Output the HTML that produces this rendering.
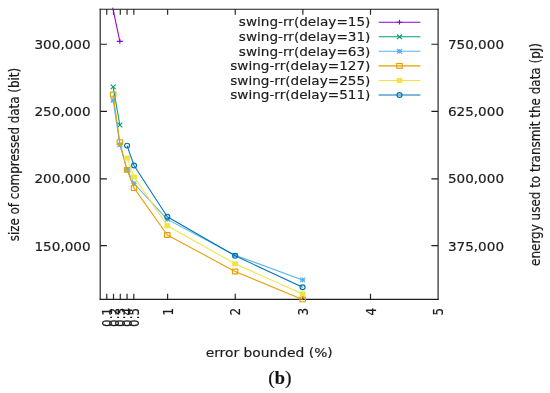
<!DOCTYPE html>
<html lang="en"><head><meta charset="utf-8"><title>chart (b)</title>
<style>
html,body{margin:0;padding:0;background:#fff}
body{width:550px;height:393px;overflow:hidden}
svg{display:block}
text{font-family:"DejaVu Sans","Liberation Sans",sans-serif;font-size:13.33px;fill:#1c1c1c;stroke:#1c1c1c;stroke-width:0.2px}
.cap{font-family:"Liberation Serif","DejaVu Serif",serif;font-size:18.4px;fill:#111}
</style></head><body>
<svg width="550" height="393" viewBox="0 0 550 393">
<rect width="550" height="393" fill="#fff"/>
<path d="M100.2 8.7V299.85M438.1 8.7V299.85M106.76 299.35v-5.6M106.76 9.2v5.6M113.52 299.35v-5.6M113.52 9.2v5.6M120.29 299.35v-5.6M120.29 9.2v5.6M127.05 299.35v-5.6M127.05 9.2v5.6M133.81 299.35v-5.6M133.81 9.2v5.6M167.62 299.35v-5.6M167.62 9.2v5.6M235.24 299.35v-5.6M235.24 9.2v5.6M302.86 299.35v-5.6M302.86 9.2v5.6M370.48 299.35v-5.6M370.48 9.2v5.6" stroke="#2a2a2a" stroke-width="1.2" fill="none"/>
<path d="M99.60 9.2H438.70M99.60 299.35H438.70M100.2 44.30h6.7M438.1 44.30h-6.7M100.2 111.40h6.7M438.1 111.40h-6.7M100.2 178.90h6.7M438.1 178.90h-6.7M100.2 245.60h6.7M438.1 245.60h-6.7" stroke="#1e1e1e" stroke-width="1.1" fill="none"/>
<g stroke-width="1.05" stroke-linejoin="round" stroke-linecap="butt">
<polyline points="112.70,7.60 119.85,41.30" fill="none" stroke="#9400d3"/>
<path d="M116.85 41.30H122.85M119.85 38.90V43.70" stroke="#9400d3" stroke-width="1.15" fill="none"/>
<polyline points="113.15,86.90 119.85,125.00" fill="none" stroke="#009e73"/>
<path d="M110.65 84.60L115.65 89.20M110.65 89.20L115.65 84.60" stroke="#009e73" stroke-width="1.15" fill="none"/>
<path d="M117.35 122.70L122.35 127.30M117.35 127.30L122.35 122.70" stroke="#009e73" stroke-width="1.15" fill="none"/>
<polyline points="113.15,100.20 119.85,144.80 127.05,169.70 134.05,183.50 167.30,219.40 235.10,255.20 302.60,279.90" fill="none" stroke="#56b4e9"/>
<path d="M110.65 97.90L115.65 102.50M110.65 102.50L115.65 97.90M110.65 100.20H115.65M113.15 97.90V102.50" stroke="#56b4e9" stroke-width="1.15" fill="none"/>
<path d="M117.35 142.50L122.35 147.10M117.35 147.10L122.35 142.50M117.35 144.80H122.35M119.85 142.50V147.10" stroke="#56b4e9" stroke-width="1.15" fill="none"/>
<path d="M124.55 167.40L129.55 172.00M124.55 172.00L129.55 167.40M124.55 169.70H129.55M127.05 167.40V172.00" stroke="#56b4e9" stroke-width="1.15" fill="none"/>
<path d="M131.55 181.20L136.55 185.80M131.55 185.80L136.55 181.20M131.55 183.50H136.55M134.05 181.20V185.80" stroke="#56b4e9" stroke-width="1.15" fill="none"/>
<path d="M164.80 217.10L169.80 221.70M164.80 221.70L169.80 217.10M164.80 219.40H169.80M167.30 217.10V221.70" stroke="#56b4e9" stroke-width="1.15" fill="none"/>
<path d="M232.60 252.90L237.60 257.50M232.60 257.50L237.60 252.90M232.60 255.20H237.60M235.10 252.90V257.50" stroke="#56b4e9" stroke-width="1.15" fill="none"/>
<path d="M300.10 277.60L305.10 282.20M300.10 282.20L305.10 277.60M300.10 279.90H305.10M302.60 277.60V282.20" stroke="#56b4e9" stroke-width="1.15" fill="none"/>
<polyline points="113.15,94.50 119.85,142.10 127.05,169.80 134.05,188.10 167.30,235.00 235.10,271.50 302.60,299.40" fill="none" stroke="#e69f00"/>
<rect x="110.45" y="92.15" width="5.4" height="4.7" stroke="#e69f00" stroke-width="1.15" fill="none"/>
<rect x="117.15" y="139.75" width="5.4" height="4.7" stroke="#e69f00" stroke-width="1.15" fill="none"/>
<rect x="124.35" y="167.45" width="5.4" height="4.7" stroke="#e69f00" stroke-width="1.15" fill="none"/>
<rect x="131.35" y="185.75" width="5.4" height="4.7" stroke="#e69f00" stroke-width="1.15" fill="none"/>
<rect x="164.60" y="232.65" width="5.4" height="4.7" stroke="#e69f00" stroke-width="1.15" fill="none"/>
<rect x="232.40" y="269.15" width="5.4" height="4.7" stroke="#e69f00" stroke-width="1.15" fill="none"/>
<rect x="299.90" y="297.05" width="5.4" height="4.7" stroke="#e69f00" stroke-width="1.15" fill="none"/>
<polyline points="127.05,158.10 134.05,176.90 167.30,225.70 235.10,263.80 302.60,293.90" fill="none" stroke="#f0e442"/>
<rect x="124.15" y="155.60" width="5.8" height="5.0" fill="#f0e442" stroke="none"/>
<rect x="131.15" y="174.40" width="5.8" height="5.0" fill="#f0e442" stroke="none"/>
<rect x="164.40" y="223.20" width="5.8" height="5.0" fill="#f0e442" stroke="none"/>
<rect x="232.20" y="261.30" width="5.8" height="5.0" fill="#f0e442" stroke="none"/>
<rect x="299.70" y="291.40" width="5.8" height="5.0" fill="#f0e442" stroke="none"/>
<polyline points="127.05,145.60 134.05,165.50 167.30,216.80 235.10,255.80 302.60,287.20" fill="none" stroke="#0072b2"/>
<ellipse cx="127.05" cy="145.60" rx="2.5" ry="2.4" stroke="#0072b2" stroke-width="1.15" fill="none"/>
<ellipse cx="134.05" cy="165.50" rx="2.5" ry="2.4" stroke="#0072b2" stroke-width="1.15" fill="none"/>
<ellipse cx="167.30" cy="216.80" rx="2.5" ry="2.4" stroke="#0072b2" stroke-width="1.15" fill="none"/>
<ellipse cx="235.10" cy="255.80" rx="2.5" ry="2.4" stroke="#0072b2" stroke-width="1.15" fill="none"/>
<ellipse cx="302.60" cy="287.20" rx="2.5" ry="2.4" stroke="#0072b2" stroke-width="1.15" fill="none"/>
</g>
<text transform="translate(90.60 48.50) scale(1 0.95)" style="font-size:13.58px" text-anchor="end">300,000</text>
<text transform="translate(447.90 48.50) scale(1 0.95)" style="font-size:13.58px" text-anchor="start">750,000</text>
<text transform="translate(90.60 116.00) scale(1 0.95)" style="font-size:13.58px" text-anchor="end">250,000</text>
<text transform="translate(447.90 116.00) scale(1 0.95)" style="font-size:13.58px" text-anchor="start">625,000</text>
<text transform="translate(90.60 183.30) scale(1 0.95)" style="font-size:13.58px" text-anchor="end">200,000</text>
<text transform="translate(447.90 183.30) scale(1 0.95)" style="font-size:13.58px" text-anchor="start">500,000</text>
<text transform="translate(90.60 250.50) scale(1 0.95)" style="font-size:13.58px" text-anchor="end">150,000</text>
<text transform="translate(447.90 250.50) scale(1 0.95)" style="font-size:13.58px" text-anchor="start">375,000</text>
<text transform="translate(111.96 308.00) rotate(-90) scale(0.8 1)" style="font-size:14.9px" text-anchor="end">0.1</text>
<text transform="translate(118.72 308.00) rotate(-90) scale(0.8 1)" style="font-size:14.9px" text-anchor="end">0.2</text>
<text transform="translate(125.49 308.00) rotate(-90) scale(0.8 1)" style="font-size:14.9px" text-anchor="end">0.3</text>
<text transform="translate(132.25 308.00) rotate(-90) scale(0.8 1)" style="font-size:14.9px" text-anchor="end">0.4</text>
<text transform="translate(139.01 308.00) rotate(-90) scale(0.8 1)" style="font-size:14.9px" text-anchor="end">0.5</text>
<text transform="translate(172.82 308.00) rotate(-90) scale(0.8 1)" style="font-size:14.9px" text-anchor="end">1</text>
<text transform="translate(240.44 308.00) rotate(-90) scale(0.8 1)" style="font-size:14.9px" text-anchor="end">2</text>
<text transform="translate(308.06 308.00) rotate(-90) scale(0.8 1)" style="font-size:14.9px" text-anchor="end">3</text>
<text transform="translate(375.68 308.00) rotate(-90) scale(0.8 1)" style="font-size:14.9px" text-anchor="end">4</text>
<text transform="translate(443.30 308.00) rotate(-90) scale(0.8 1)" style="font-size:14.9px" text-anchor="end">5</text>
<text transform="translate(18.70 154.60) rotate(-90) scale(0.85 1)" style="font-size:14.0px" text-anchor="middle">size of compressed data (bit)</text>
<text transform="translate(539.60 154.50) rotate(-90) scale(0.856 1)" style="font-size:14.0px" text-anchor="middle">energy used to transmit the data (pJ)</text>
<text transform="translate(269.20 357.00) scale(1 0.93)" style="font-size:13.85px" text-anchor="middle">error bounded (%)</text>
<text class="cap" x="279.8" y="384.4" text-anchor="middle"><tspan style="font-size:19.6px">(</tspan><tspan font-weight="bold">b</tspan><tspan style="font-size:19.6px">)</tspan></text>
<text transform="translate(370.40 26.45) scale(1 0.91)" style="font-size:13.6px" text-anchor="end">swing-rr(delay=15)</text>
<g stroke-width="1.05"><path d="M378.7 22.20H420.4" stroke="#9400d3" fill="none"/><path d="M396.50 22.20H402.50M399.50 19.80V24.60" stroke="#9400d3" stroke-width="1.15" fill="none"/></g>
<text transform="translate(370.40 41.01) scale(1 0.91)" style="font-size:13.6px" text-anchor="end">swing-rr(delay=31)</text>
<g stroke-width="1.05"><path d="M378.7 36.76H420.4" stroke="#009e73" fill="none"/><path d="M397.00 34.46L402.00 39.06M397.00 39.06L402.00 34.46" stroke="#009e73" stroke-width="1.15" fill="none"/></g>
<text transform="translate(370.40 55.57) scale(1 0.91)" style="font-size:13.6px" text-anchor="end">swing-rr(delay=63)</text>
<g stroke-width="1.05"><path d="M378.7 51.32H420.4" stroke="#56b4e9" fill="none"/><path d="M397.00 49.02L402.00 53.62M397.00 53.62L402.00 49.02M397.00 51.32H402.00M399.50 49.02V53.62" stroke="#56b4e9" stroke-width="1.15" fill="none"/></g>
<text transform="translate(370.40 70.13) scale(1 0.91)" style="font-size:13.6px" text-anchor="end">swing-rr(delay=127)</text>
<g stroke-width="1.05"><path d="M378.7 65.88H420.4" stroke="#e69f00" fill="none"/><rect x="396.80" y="63.53" width="5.4" height="4.7" stroke="#e69f00" stroke-width="1.15" fill="none"/></g>
<text transform="translate(370.40 84.69) scale(1 0.91)" style="font-size:13.6px" text-anchor="end">swing-rr(delay=255)</text>
<g stroke-width="1.05"><path d="M378.7 80.44H420.4" stroke="#f0e442" fill="none"/><rect x="396.60" y="77.94" width="5.8" height="5.0" fill="#f0e442" stroke="none"/></g>
<text transform="translate(370.40 99.25) scale(1 0.91)" style="font-size:13.6px" text-anchor="end">swing-rr(delay=511)</text>
<g stroke-width="1.05"><path d="M378.7 95.00H420.4" stroke="#0072b2" fill="none"/><ellipse cx="399.50" cy="95.00" rx="2.5" ry="2.4" stroke="#0072b2" stroke-width="1.15" fill="none"/></g>
</svg></body></html>
